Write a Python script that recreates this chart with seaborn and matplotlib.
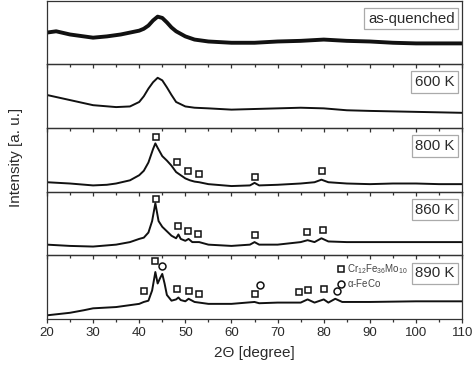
import numpy as np
import pandas as pd
import matplotlib
matplotlib.use('Agg')
import matplotlib.pyplot as plt
from matplotlib.lines import Line2D
import seaborn as sns

## Values (2theta in degree, intensity as fraction of panel height)
two_theta_aq = [20, 22, 25, 28, 30, 33, 36, 38, 40, 41, 42, 43, 44, 45, 46, 47, 48, 50,
                52, 55, 60, 65, 70, 75, 80, 85, 90, 95, 100, 105, 110]
int_aq = [0.50, 0.52, 0.47, 0.44, 0.42, 0.44, 0.47, 0.50, 0.53, 0.56, 0.61, 0.69, 0.75,
          0.73, 0.66, 0.58, 0.52, 0.44, 0.39, 0.36, 0.34, 0.34, 0.36, 0.37, 0.39, 0.37,
          0.36, 0.34, 0.33, 0.33, 0.33]

two_theta_600 = [20, 25, 30, 35, 38, 40, 41, 42, 43, 44, 45, 46, 47, 48, 50, 52, 55, 60,
                 65, 70, 75, 80, 85, 90, 100, 110]
int_600 = [0.52, 0.44, 0.36, 0.33, 0.34, 0.41, 0.50, 0.62, 0.72, 0.79, 0.75, 0.64, 0.52,
           0.41, 0.34, 0.32, 0.31, 0.29, 0.30, 0.31, 0.32, 0.31, 0.28, 0.27, 0.255, 0.24]

two_theta_800 = [20, 25, 30, 33, 35, 38, 40, 41, 42, 43, 43.5, 44, 45, 46, 47, 48, 49, 50,
                 51, 52, 53, 55, 60, 64, 65, 66, 70, 75, 78, 79.5, 81, 85, 90, 95, 100,
                 105, 110]
int_800 = [0.15, 0.13, 0.10, 0.11, 0.13, 0.18, 0.26, 0.33, 0.46, 0.67, 0.76, 0.69, 0.56,
           0.49, 0.41, 0.31, 0.26, 0.21, 0.18, 0.16, 0.15, 0.12, 0.09, 0.10, 0.14, 0.10,
           0.11, 0.13, 0.15, 0.19, 0.15, 0.13, 0.12, 0.13, 0.13, 0.12, 0.12]

two_theta_860 = [20, 25, 30, 35, 38, 40, 41, 42, 42.8, 43.5, 44.2, 45, 46, 47, 48, 48.5,
                 49, 50, 50.7, 51.5, 53, 55, 60, 64, 65, 66, 70, 75, 76.5, 78, 79.5, 81,
                 85, 90, 100, 110]
int_860 = [0.17, 0.15, 0.14, 0.17, 0.21, 0.26, 0.28, 0.36, 0.54, 0.82, 0.54, 0.45, 0.38,
           0.31, 0.27, 0.33, 0.26, 0.23, 0.26, 0.21, 0.21, 0.17, 0.15, 0.17, 0.21, 0.17,
           0.17, 0.21, 0.24, 0.21, 0.27, 0.22, 0.21, 0.21, 0.21, 0.21]

two_theta_890 = [20, 25, 28, 30, 35, 38, 40, 41, 42, 42.8, 43.5, 44, 44.5, 45, 45.5, 46,
                 47, 48, 48.5, 49, 50, 50.7, 52, 55, 60, 65, 66, 70, 75, 76.5, 78, 80, 81,
                 82.5, 84, 90, 100, 110]
int_890 = [0.06, 0.10, 0.14, 0.17, 0.19, 0.22, 0.24, 0.27, 0.29, 0.45, 0.74, 0.56, 0.64,
           0.71, 0.56, 0.38, 0.29, 0.31, 0.34, 0.30, 0.28, 0.32, 0.27, 0.24, 0.24, 0.27,
           0.25, 0.26, 0.26, 0.31, 0.26, 0.31, 0.26, 0.32, 0.27, 0.27, 0.28, 0.28]

## Phase markers (square: Cr12Fe36Mo10, circle: alpha-FeCo)
sq_800_x = [43.6, 48.1, 50.6, 53.0, 65.1, 79.6]
sq_800_y = [0.86, 0.46, 0.32, 0.28, 0.23, 0.33]
sq_860_x = [43.6, 48.5, 50.6, 52.8, 65.1, 76.3, 79.8]
sq_860_y = [0.88, 0.46, 0.39, 0.33, 0.32, 0.37, 0.40]
sq_890_x = [41.1, 43.4, 48.3, 50.8, 53.0, 65.0, 74.7, 76.5, 80.1]
sq_890_y = [0.44, 0.92, 0.48, 0.44, 0.40, 0.40, 0.43, 0.45, 0.48]
ci_890_x = [45.0, 66.1, 82.8]
ci_890_y = [0.83, 0.53, 0.44]

panels = [
    ('as-quenched', two_theta_aq, int_aq, [], [], [], []),
    ('600 K', two_theta_600, int_600, [], [], [], []),
    ('800 K', two_theta_800, int_800, sq_800_x, sq_800_y, [], []),
    ('860 K', two_theta_860, int_860, sq_860_x, sq_860_y, [], []),
    ('890 K', two_theta_890, int_890, sq_890_x, sq_890_y, ci_890_x, ci_890_y),
]

sns.set_style('ticks')
plt.rcParams['font.family'] = ['Liberation Sans', 'DejaVu Sans']
plt.rcParams['mathtext.fontset'] = 'custom'
plt.rcParams['mathtext.rm'] = 'Liberation Sans'
plt.rcParams['mathtext.it'] = 'Liberation Sans'

txt = '#2a2a2a'
edge = '#333333'

fig, axes = plt.subplots(5, 1, figsize=(4.74, 3.66), dpi=100, sharex=True)
fig.subplots_adjust(left=0.099, right=0.975, bottom=0.128, top=0.998, hspace=0)

for i, (ax, (name, xs, ys, sx, sy, cx, cy)) in enumerate(zip(axes, panels)):
    ax.set_facecolor('none')  # so outward ticks of the panel above stay visible
    df = pd.DataFrame({'x': xs, 'y': ys})
    lw = 2.8 if i == 0 else 1.4
    sns.lineplot(data=df, x='x', y='y', ax=ax, color='#111111', lw=lw)
    if sx:
        ax.plot(sx, sy, ls='none', marker='s', ms=5, mfc='white', mec='#111111', mew=1.1)
    if cx:
        ax.plot(cx, cy, ls='none', marker='o', ms=5, mfc='white', mec='#111111', mew=1.1)
    ax.set_xlim(20, 110)
    ax.set_ylim(0, 1)
    ax.set_yticks([])
    ax.set_xlabel('')
    ax.set_ylabel('')
    ax.set_xticks(np.arange(20, 111, 10))
    ax.set_xticks(np.arange(25, 110, 10), minor=True)
    ax.tick_params(axis='x', which='both', direction='out', top=False, bottom=True,
                   color=edge, width=0.9, labelsize=9.5, labelcolor=txt, pad=2.5)
    ax.tick_params(axis='x', which='major', length=3.2)
    ax.tick_params(axis='x', which='minor', length=2)
    for sp in ax.spines.values():
        sp.set_color(edge)
        sp.set_linewidth(0.9)
    ax.text(0.982, 0.72, name, transform=ax.transAxes, ha='right', va='center',
            fontsize=10.8, color=txt,
            bbox=dict(boxstyle='square,pad=0.25', fc='white', ec='#aaaaaa', lw=0.9))

handles = [Line2D([], [], ls='none', marker='s', ms=5, mfc='white', mec='#111111', mew=1.1),
           Line2D([], [], ls='none', marker='o', ms=5, mfc='white', mec='#111111', mew=1.1)]
leg = axes[4].legend(handles, [r'Cr$_{12}$Fe$_{36}$Mo$_{10}$', r'$\alpha$-FeCo'],
                     loc='upper left', bbox_to_anchor=(0.685, 1.0), frameon=False,
                     fontsize=7, handlelength=0.6, handletextpad=0.3,
                     labelspacing=0.1, borderpad=0.2)
for t in leg.get_texts():
    t.set_color('#444444')

axes[4].set_xlabel('2Θ [degree]', fontsize=11, color=txt, labelpad=5)
fig.text(0.033, 0.57, 'Intensity [a. u.]', rotation=90, ha='center', va='center',
         fontsize=11, color=txt)

fig.savefig('out.png', dpi=100)
